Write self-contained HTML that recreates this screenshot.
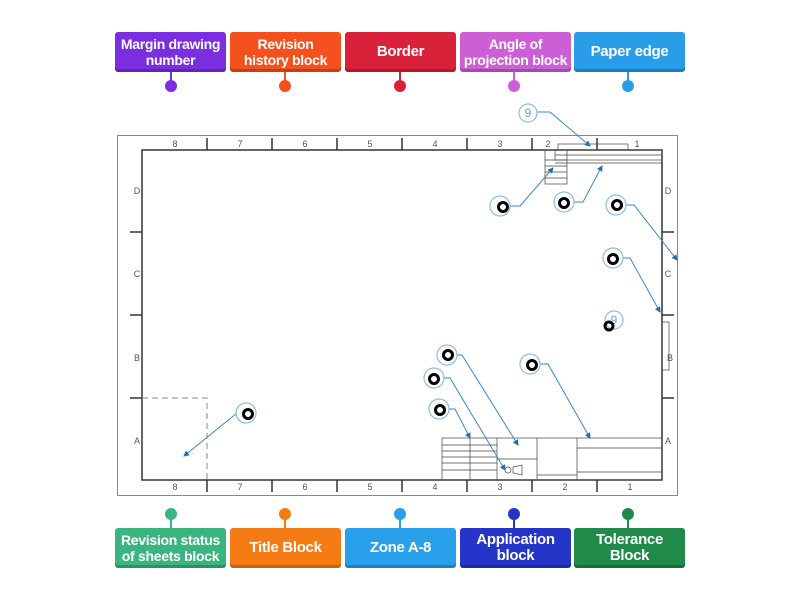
<!DOCTYPE html>
<html><head><style>
body{margin:0;width:800px;height:600px;background:#fff;position:relative;font-family:"Liberation Sans",sans-serif;overflow:hidden}
.b{position:absolute;width:111px;height:40px;border-radius:3px;color:#fff;font-size:14px;font-weight:bold;line-height:16px;display:flex;align-items:center;justify-content:center;text-align:center;box-shadow:inset 0 -3px 0 rgba(0,0,0,.2);letter-spacing:-0.3px}
</style></head><body>
<svg width="800" height="600" style="position:absolute;left:0;top:0">
<defs><marker id="a" markerWidth="6" markerHeight="6" refX="5" refY="3" orient="auto"><path d="M0,0L6,3L0,6z" fill="#1f6fb5"/></marker></defs>
<g stroke-width="2">
<line x1="171" y1="72" x2="171" y2="86" stroke="#7b2ee0"/><circle cx="171" cy="86" r="6" fill="#7b2ee0"/>
<line x1="285" y1="72" x2="285" y2="86" stroke="#f4511e"/><circle cx="285" cy="86" r="6" fill="#f4511e"/>
<line x1="400" y1="72" x2="400" y2="86" stroke="#d9223a"/><circle cx="400" cy="86" r="6" fill="#d9223a"/>
<line x1="514" y1="72" x2="514" y2="86" stroke="#cc5ed6"/><circle cx="514" cy="86" r="6" fill="#cc5ed6"/>
<line x1="628" y1="72" x2="628" y2="86" stroke="#2a9de8"/><circle cx="628" cy="86" r="6" fill="#2a9de8"/>
<line x1="171" y1="514" x2="171" y2="528" stroke="#3bb57f"/><circle cx="171" cy="514" r="6" fill="#3bb57f"/>
<line x1="285" y1="514" x2="285" y2="528" stroke="#f57c14"/><circle cx="285" cy="514" r="6" fill="#f57c14"/>
<line x1="400" y1="514" x2="400" y2="528" stroke="#2aa0ea"/><circle cx="400" cy="514" r="6" fill="#2aa0ea"/>
<line x1="514" y1="514" x2="514" y2="528" stroke="#2435c8"/><circle cx="514" cy="514" r="6" fill="#2435c8"/>
<line x1="628" y1="514" x2="628" y2="528" stroke="#1f8a4a"/><circle cx="628" cy="514" r="6" fill="#1f8a4a"/>
</g>
<rect x="117.5" y="135.5" width="560" height="360" fill="none" stroke="#888"/>
<rect x="142" y="150" width="520" height="330" fill="none" stroke="#333" stroke-width="1.5"/>
<g stroke="#333" stroke-width="1.5">
<line x1="207" y1="138" x2="207" y2="150"/><line x1="272" y1="138" x2="272" y2="150"/><line x1="337" y1="138" x2="337" y2="150"/><line x1="402" y1="138" x2="402" y2="150"/><line x1="467" y1="138" x2="467" y2="150"/><line x1="532" y1="138" x2="532" y2="150"/><line x1="597" y1="138" x2="597" y2="150"/>
<line x1="207" y1="480" x2="207" y2="492"/><line x1="272" y1="480" x2="272" y2="492"/><line x1="337" y1="480" x2="337" y2="492"/><line x1="402" y1="480" x2="402" y2="492"/><line x1="467" y1="480" x2="467" y2="492"/><line x1="532" y1="480" x2="532" y2="492"/><line x1="597" y1="480" x2="597" y2="492"/>
<line x1="130" y1="232" x2="142" y2="232"/><line x1="130" y1="315" x2="142" y2="315"/><line x1="130" y1="398" x2="142" y2="398"/>
<line x1="662" y1="232" x2="674" y2="232"/><line x1="662" y1="315" x2="674" y2="315"/><line x1="662" y1="398" x2="674" y2="398"/>
</g>
<g font-size="9" fill="#555" text-anchor="middle">
<text x="175" y="147">8</text><text x="240" y="147">7</text><text x="305" y="147">6</text><text x="370" y="147">5</text><text x="435" y="147">4</text><text x="500" y="147">3</text><text x="548" y="147">2</text><text x="637" y="147">1</text>
<text x="175" y="490">8</text><text x="240" y="490">7</text><text x="305" y="490">6</text><text x="370" y="490">5</text><text x="435" y="490">4</text><text x="500" y="490">3</text><text x="565" y="490">2</text><text x="630" y="490">1</text>
<text x="137" y="194">D</text><text x="137" y="277">C</text><text x="137" y="361">B</text><text x="137" y="444">A</text>
<text x="668" y="194">D</text><text x="668" y="277">C</text><text x="670" y="361">B</text><text x="668" y="444">A</text>
</g>
<path d="M142,398H207V480" fill="none" stroke="#888" stroke-dasharray="6,4"/>
<g stroke="#444" stroke-width="0.7" fill="none">
<rect x="558" y="144" width="70" height="6"/><rect x="555" y="150" width="107" height="10"/><line x1="555" y1="155" x2="662" y2="155"/><line x1="555" y1="163" x2="662" y2="163"/>
<rect x="545" y="150" width="22" height="34"/><line x1="545" y1="160" x2="567" y2="160"/><line x1="545" y1="166" x2="567" y2="166"/><line x1="545" y1="172" x2="567" y2="172"/><line x1="545" y1="178" x2="567" y2="178"/>
<rect x="662" y="322" width="7" height="48"/>
<rect x="442" y="438" width="220" height="42"/><line x1="497" y1="438" x2="497" y2="480"/><line x1="537" y1="438" x2="537" y2="480"/><line x1="577" y1="438" x2="577" y2="480"/><line x1="470" y1="438" x2="470" y2="480"/>
<line x1="442" y1="445" x2="497" y2="445"/><line x1="442" y1="451" x2="497" y2="451"/><line x1="442" y1="457" x2="497" y2="457"/><line x1="442" y1="463" x2="497" y2="463"/><line x1="442" y1="470" x2="497" y2="470"/>
<line x1="497" y1="459" x2="537" y2="459"/><line x1="577" y1="448" x2="662" y2="448"/><line x1="577" y1="472" x2="662" y2="472"/><line x1="537" y1="475" x2="577" y2="475"/>
<circle cx="508" cy="470" r="3"/><path d="M513,467L522,465V475L513,473Z"/>
</g>
<g stroke="#3a88c9" stroke-width="1" fill="none" marker-end="url(#a)">
<path d="M537,112H550L590,146"/><path d="M510,206H520L553,168"/><path d="M574,202H583L602,166"/><path d="M626,205H634L677,260"/>
<path d="M622,258H630L660,312"/><path d="M540,364H548L590,438"/><path d="M456,355H462L518,445"/><path d="M443,378H450L505,470"/><path d="M448,409H455L470,438"/><path d="M245,413H237L184,456"/>
</g>
<g fill="#fff" stroke="#8bbde0" stroke-width="1.2">
<circle cx="528" cy="113" r="9"/><circle cx="500" cy="206" r="10"/><circle cx="564" cy="202" r="10"/><circle cx="616" cy="205" r="10"/><circle cx="613" cy="258" r="10"/><circle cx="614" cy="320" r="9"/><circle cx="530" cy="364" r="10"/><circle cx="447" cy="355" r="10"/><circle cx="434" cy="378" r="10"/><circle cx="439" cy="409" r="10"/><circle cx="246" cy="413" r="10"/>
</g>
<text x="528" y="117" font-size="12" fill="#6aa3cf" text-anchor="middle">9</text>
<text x="614" y="324" font-size="12" fill="#6aa3cf" text-anchor="middle">9</text>
<g fill="none" stroke="#000" stroke-width="3">
<circle cx="503" cy="207" r="4.5"/><circle cx="564" cy="203" r="4.5"/><circle cx="617" cy="205" r="4.5"/><circle cx="613" cy="259" r="4.5"/><circle cx="609" cy="326" r="4"/><circle cx="532" cy="365" r="4.5"/><circle cx="448" cy="355" r="4.5"/><circle cx="434" cy="379" r="4.5"/><circle cx="440" cy="410" r="4.5"/><circle cx="248" cy="414" r="4.5"/>
</g>
</svg>
<div class="b" style="left:115px;top:32px;background:#7b2ee0">Margin drawing<br>number</div>
<div class="b" style="left:230px;top:32px;background:#f4511e">Revision<br>history block</div>
<div class="b" style="left:345px;top:32px;background:#d9223a;font-size:15px">Border</div>
<div class="b" style="left:460px;top:32px;background:#cc5ed6">Angle of<br>projection block</div>
<div class="b" style="left:574px;top:32px;background:#2a9de8;font-size:15px">Paper edge</div>
<div class="b" style="left:115px;top:528px;background:#3bb57f">Revision status<br>of sheets block</div>
<div class="b" style="left:230px;top:528px;background:#f57c14;font-size:15px">Title Block</div>
<div class="b" style="left:345px;top:528px;background:#2aa0ea;font-size:15px">Zone A-8</div>
<div class="b" style="left:460px;top:528px;background:#2435c8;font-size:15px">Application<br>block</div>
<div class="b" style="left:574px;top:528px;background:#1f8a4a;font-size:15px">Tolerance<br>Block</div>
</body></html>
